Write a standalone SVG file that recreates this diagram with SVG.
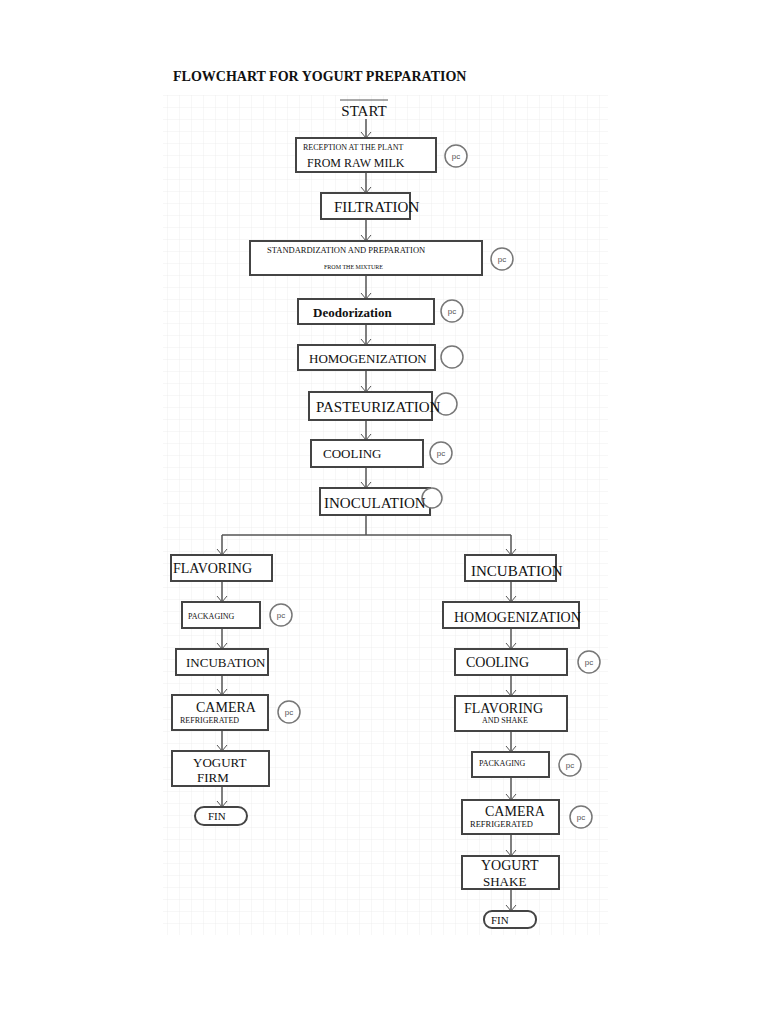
<svg xmlns="http://www.w3.org/2000/svg" width="768" height="1024" viewBox="0 0 768 1024">
<defs>
<pattern id="grid" width="12" height="12" patternUnits="userSpaceOnUse"><path d="M12 0V12H0" fill="none" stroke="#eeeeee" stroke-width="1"/></pattern>
<marker id="ar" markerWidth="8" markerHeight="12" refX="7" refY="6" orient="auto" markerUnits="userSpaceOnUse"><path d="M1 1 L7 6 L1 11" fill="none" stroke="#555" stroke-width="1"/></marker>
</defs>
<style>
.b{fill:#fff;stroke:#444;stroke-width:2}
.t{font-family:"Liberation Serif",serif;fill:#111}
.pc circle{fill:#fff;stroke:#777;stroke-width:1.5}
.pc text{font-family:"Liberation Sans",sans-serif;font-size:8px;fill:#555;text-anchor:middle}
.c{stroke:#555;stroke-width:1.5;fill:none}
</style>
<rect width="768" height="1024" fill="#fff"/>
<rect x="163" y="95" width="445" height="840" fill="url(#grid)"/>
<text class="t" x="173" y="81" font-size="14" font-weight="bold">FLOWCHART FOR YOGURT PREPARATION</text>
<g id="connectors">
<path class="c" marker-end="url(#ar)" d="M366 119V138"/>
<path class="c" marker-end="url(#ar)" d="M366 172V193"/>
<path class="c" marker-end="url(#ar)" d="M366 219V241"/>
<path class="c" marker-end="url(#ar)" d="M366 275V299"/>
<path class="c" marker-end="url(#ar)" d="M366 324V345"/>
<path class="c" marker-end="url(#ar)" d="M366 370V392"/>
<path class="c" marker-end="url(#ar)" d="M366 420V440"/>
<path class="c" marker-end="url(#ar)" d="M366 467V488"/>
<path class="c" d="M366 515V535M222 535H511"/>
<path class="c" marker-end="url(#ar)" d="M222 535V555"/>
<path class="c" marker-end="url(#ar)" d="M222 581V602"/>
<path class="c" marker-end="url(#ar)" d="M222 628V649"/>
<path class="c" marker-end="url(#ar)" d="M222 675V695"/>
<path class="c" marker-end="url(#ar)" d="M222 730V751"/>
<path class="c" marker-end="url(#ar)" d="M222 786V807"/>
<path class="c" marker-end="url(#ar)" d="M511 535V555"/>
<path class="c" marker-end="url(#ar)" d="M511 581V602"/>
<path class="c" marker-end="url(#ar)" d="M511 628V649"/>
<path class="c" marker-end="url(#ar)" d="M511 675V696"/>
<path class="c" marker-end="url(#ar)" d="M511 731V752"/>
<path class="c" marker-end="url(#ar)" d="M511 777V800"/>
<path class="c" marker-end="url(#ar)" d="M511 834V856"/>
<path class="c" marker-end="url(#ar)" d="M511 889V911"/>
</g>
<g id="start"><path d="M340 100H388" stroke="#555"/><text class="t" x="364" y="116" font-size="15" text-anchor="middle">START</text></g>
<g id="reception"><rect class="b" x="296" y="138" width="140" height="34"/><text class="t" x="303" y="150" font-size="8">RECEPTION AT THE PLANT</text><text class="t" x="307" y="167" font-size="12">FROM RAW MILK</text></g>
<g id="pc1" class="pc"><circle cx="456" cy="156" r="11"/><text x="456" y="159">pc</text></g>
<g id="filtration"><rect class="b" x="321" y="193" width="89" height="26"/><text class="t" x="334" y="212" font-size="15">FILTRATION</text></g>
<g id="standard"><rect class="b" x="250" y="241" width="232" height="34"/><text class="t" x="267" y="253" font-size="8.5">STANDARDIZATION AND PREPARATION</text><text class="t" x="324" y="269" font-size="6">FROM THE MIXTURE</text></g>
<g id="pc2" class="pc"><circle cx="502" cy="259" r="11"/><text x="502" y="262">pc</text></g>
<g id="deodor"><rect class="b" x="298" y="299" width="136" height="25"/><text class="t" x="313" y="317" font-size="13" font-weight="bold">Deodorization</text></g>
<g id="pc3" class="pc"><circle cx="452" cy="311" r="11"/><text x="452" y="314">pc</text></g>
<g id="homog1"><rect class="b" x="298" y="345" width="137" height="25"/><circle cx="452" cy="357" r="11" fill="#fff" stroke="#777" stroke-width="1.5"/><text class="t" x="309" y="363" font-size="13">HOMOGENIZATION</text></g>
<g id="pasteur"><rect class="b" x="309" y="392" width="123" height="28"/><circle cx="446" cy="404" r="11" fill="#fff" stroke="#777" stroke-width="1.5"/><text class="t" x="316" y="412" font-size="15">PASTEURIZATION</text></g>
<g id="cooling1"><rect class="b" x="311" y="440" width="112" height="27"/><text class="t" x="323" y="458" font-size="13">COOLING</text></g>
<g id="pc4" class="pc"><circle cx="441" cy="453" r="11"/><text x="441" y="456">pc</text></g>
<g id="inoc"><rect class="b" x="320" y="488" width="110" height="27"/><circle cx="432" cy="498" r="10" fill="#fff" stroke="#777" stroke-width="1.5"/><text class="t" x="324" y="508" font-size="15">INOCULATION</text></g>
<g id="flav1"><rect class="b" x="171" y="555" width="101" height="26"/><text class="t" x="173" y="573" font-size="14">FLAVORING</text></g>
<g id="pack1"><rect class="b" x="182" y="602" width="78" height="26"/><text class="t" x="188" y="619" font-size="8">PACKAGING</text></g>
<g id="pc5" class="pc"><circle cx="281" cy="615" r="11"/><text x="281" y="618">pc</text></g>
<g id="incub1"><rect class="b" x="176" y="649" width="92" height="26"/><text class="t" x="186" y="667" font-size="13">INCUBATION</text></g>
<g id="camera1"><rect class="b" x="172" y="695" width="96" height="35"/><text class="t" x="196" y="712" font-size="14">CAMERA</text><text class="t" x="180" y="723" font-size="8">REFRIGERATED</text></g>
<g id="pc6" class="pc"><circle cx="289" cy="712" r="11"/><text x="289" y="715">pc</text></g>
<g id="firm"><rect class="b" x="172" y="751" width="97" height="35"/><text class="t" x="193" y="767" font-size="13">YOGURT</text><text class="t" x="197" y="782" font-size="13">FIRM</text></g>
<g id="fin1"><rect class="b" x="195" y="807" width="52" height="18" rx="9" stroke-width="1.5"/><text class="t" x="208" y="820" font-size="11">FIN</text></g>
<g id="incub2"><rect class="b" x="465" y="555" width="91" height="26"/><text class="t" x="471" y="576" font-size="15">INCUBATION</text></g>
<g id="homog2"><rect class="b" x="443" y="602" width="136" height="26"/><text class="t" x="454" y="622" font-size="14">HOMOGENIZATION</text></g>
<g id="cooling2"><rect class="b" x="455" y="649" width="112" height="26"/><text class="t" x="466" y="667" font-size="14">COOLING</text></g>
<g id="pc7" class="pc"><circle cx="589" cy="662" r="11"/><text x="589" y="665">pc</text></g>
<g id="flav2"><rect class="b" x="455" y="696" width="112" height="35"/><text class="t" x="464" y="713" font-size="14">FLAVORING</text><text class="t" x="482" y="723" font-size="8">AND SHAKE</text></g>
<g id="pack2"><rect class="b" x="472" y="752" width="77" height="25"/><text class="t" x="479" y="766" font-size="8">PACKAGING</text></g>
<g id="pc8" class="pc"><circle cx="570" cy="765" r="11"/><text x="570" y="768">pc</text></g>
<g id="camera2"><rect class="b" x="462" y="800" width="97" height="34"/><text class="t" x="485" y="816" font-size="14">CAMERA</text><text class="t" x="470" y="827" font-size="8.5">REFRIGERATED</text></g>
<g id="pc9" class="pc"><circle cx="581" cy="817" r="11"/><text x="581" y="820">pc</text></g>
<g id="shake"><rect class="b" x="462" y="856" width="97" height="33"/><text class="t" x="481" y="870" font-size="14">YOGURT</text><text class="t" x="483" y="886" font-size="13">SHAKE</text></g>
<g id="fin2"><rect class="b" x="484" y="911" width="52" height="17" rx="8" stroke-width="1.5"/><text class="t" x="491" y="924" font-size="11">FIN</text></g>
</svg>
